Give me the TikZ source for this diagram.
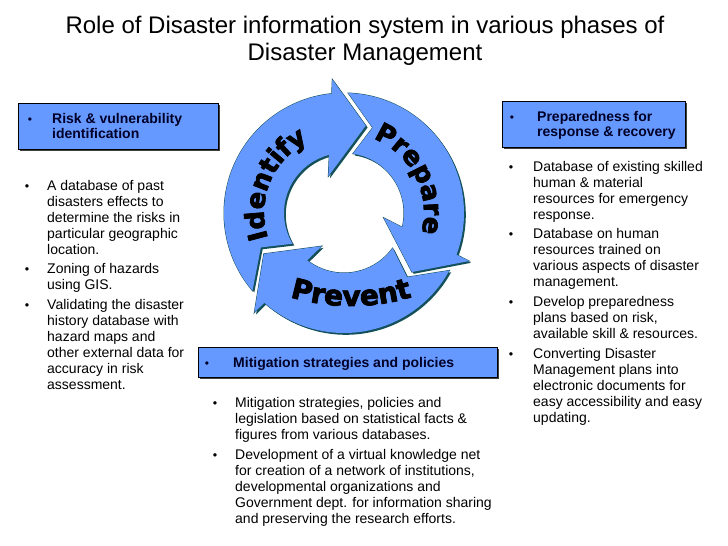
\documentclass[tikz,border=0pt]{standalone}
\usepackage{fontspec}
\setmainfont{Liberation Sans}
\newfontfamily\heavy{DejaVu Sans}[BoldFeatures={FakeBold=3}]
\usetikzlibrary{decorations.text,shadows}
\definecolor{boxblue}{RGB}{102,153,255}
\definecolor{arrowblue}{RGB}{102,153,255}
\definecolor{shade}{RGB}{20,80,90}
\definecolor{navy}{RGB}{0,0,40}
\newcommand\arcfont{\color{black}\heavy\bfseries\fontsize{26}{26}\selectfont}
\newcommand\arcfontb{\color{black}\heavy\bfseries\fontsize{28}{28}\selectfont}
% #1 tail outer angle, #2 tail inner angle, #3 notch angle, #4 band end,
% #5 outer wing angle, #6 inner wing angle, #7 tip angle, #8 style
\newcommand\arrowshapes[8]{%
  \path[#8] (#1:120) arc[start angle=#1,end angle=#4,radius=120] -- (#4:60)
     arc[start angle=#4,end angle=#2,radius=60] -- (#3:90) -- cycle;
  \path[#8] (#5:134) -- (#7:90) -- (#6:40) -- cycle;}
\newcommand\allarrows[1]{%
  \arrowshapes{220.3}{210.8}{202.5}{93}{95}{113}{76}{#1}
  \arrowshapes{88}{81.4}{71.4}{-23}{-21}{-7}{-41}{#1}
  \arrowshapes{-28.6}{-35.9}{-45.5}{-134}{-132}{-124}{-153}{#1}}
\begin{document}
\begin{tikzpicture}[x=1pt,y=1pt,
  body/.style={anchor=base west, inner sep=0pt, align=left, font=\fontsize{14}{16}\selectfont},
  bul/.style={anchor=base, inner sep=0pt, font=\fontsize{12.5}{12.5}\selectfont},
  boxtext/.style={anchor=base west, inner sep=0pt, align=left, text=navy, font=\bfseries\fontsize{14}{15.5}\selectfont},
  boxbul/.style={anchor=base, inner sep=0pt, text=navy, font=\fontsize{12}{12}\selectfont},
  infobox/.style={fill=boxblue, draw=black, line width=0.8pt, anchor=north west, inner sep=0pt,
     drop shadow={shadow xshift=1.6pt, shadow yshift=-1.6pt, fill=black!75, opacity=1}},
  ]
\useasboundingbox (0,0) rectangle (728,-546);
\fill[white] (0,0) rectangle (728,-546);

% title (base anchor = baseline of last line)
\node[anchor=base, align=center, inner sep=0pt, font=\fontsize{24}{27}\selectfont] (title) at (365,-60)
  {Role of Disaster information system in various phases of\\Disaster Management};

% cycle arrows
\begin{scope}[shift={(345.8,-214.8)}]
  \allarrows{fill=shade}
\end{scope}
\begin{scope}[shift={(344,-213)}]
  \allarrows{draw=shade, line width=1pt}
  \allarrows{fill=arrowblue}
  \path[draw=black, fill=black, decorate, decoration={text along path, text align=center, text={|\arcfont|Identify}}]
    (230:80) arc[start angle=230, end angle=85, radius=80];
  \path[draw=black, fill=black, decorate, decoration={text along path, text align=center, text={|\arcfont|Prepare}}]
    (100:80) arc[start angle=100, end angle=-46, radius=80];
\end{scope}
\begin{scope}[shift={(351,-95)}]
  \path[draw=black, fill=black, decorate, decoration={text along path, text align=center, text={|\arcfontb|Prevent}}]
    (235:211) arc[start angle=235, end angle=305, radius=211];
\end{scope}

% boxes
\node[infobox, minimum width=200pt, minimum height=46pt] (riskbox) at (18,-103) {};
\node[boxbul] (riskbul) at (30,-123) {\textbullet};
\node[boxtext] (risktxt) at (52,-138.5) {Risk \& vulnerability\\identification};

\node[infobox, minimum width=183pt, minimum height=46pt] (prepbox) at (502,-101) {};
\node[boxbul] (prepbul) at (512,-121) {\textbullet};
\node[boxtext] (preptxt) at (537,-136.5) {Preparedness for\\response \& recovery};

\node[infobox, minimum width=299pt, minimum height=30pt] (mitbox) at (198,-347) {};
\node[boxbul] (mitbul) at (207,-367) {\textbullet};
\node[boxtext] (mittxt) at (233,-367) {Mitigation strategies and policies};

% left list (anchors at last-line baselines)
\node[bul] (lb1) at (27,-190) {\textbullet};
\node[body] (lt1) at (47,-254) {A database of past\\disasters effects to\\determine the risks in\\particular geographic\\location.};
\node[bul] (lb2) at (27,-273) {\textbullet};
\node[body] (lt2) at (47,-289) {Zoning of hazards\\using GIS.};
\node[bul] (lb3) at (27,-309) {\textbullet};
\node[body] (lt3) at (47,-389) {Validating the disaster\\history database with\\hazard maps and\\other external data for\\accuracy in risk\\assessment.};

% right list
\node[bul] (rb1) at (511,-171.5) {\textbullet};
\node[body] (rt1) at (533,-219.5) {Database of existing skilled\\human \& material\\resources for emergency\\response.};
\node[bul] (rb2) at (511,-238.5) {\textbullet};
\node[body] (rt2) at (533,-286.5) {Database on human\\resources trained on\\various aspects of disaster\\management.};
\node[bul] (rb3) at (511,-306) {\textbullet};
\node[body] (rt3) at (533,-338) {Develop preparedness\\plans based on risk,\\available skill \& resources.};
\node[bul] (rb4) at (511,-358) {\textbullet};
\node[body] (rt4) at (533,-422) {Converting Disaster\\Management plans into\\electronic documents for\\easy accessibility and easy\\updating.};

% bottom list
\node[bul] (bb1) at (215,-407) {\textbullet};
\node[body] (bt1) at (235,-439) {Mitigation strategies, policies and\\legislation based on statistical facts \&\\figures from various databases.};
\node[bul] (bb2) at (215,-459) {\textbullet};
\node[body] (bt2) at (235,-523) {Development of a virtual knowledge net\\for creation of a network of institutions,\\developmental organizations and\\Government dept. for information sharing\\and preserving the research efforts.};
\end{tikzpicture}
\end{document}
